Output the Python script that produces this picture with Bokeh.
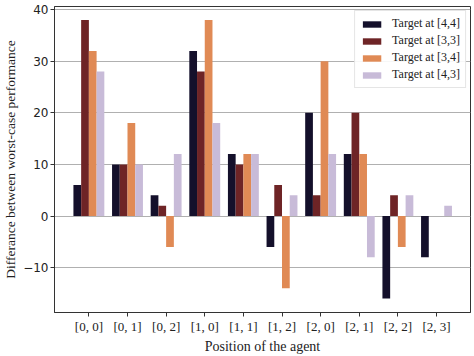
from bokeh.plotting import figure
from bokeh.models import ColumnDataSource, Range1d, FixedTicker, Legend, LegendItem
from bokeh.transform import dodge
from bokeh.embed import file_html
from bokeh.resources import INLINE

positions = ["[0, 0]", "[0, 1]", "[0, 2]", "[1, 0]", "[1, 1]", "[1, 2]", "[2, 0]", "[2, 1]", "[2, 2]", "[2, 3]"]
t44 = [6, 10, 4, 32, 12, -6, 20, 12, -16, -8]
t33 = [38, 10, 2, 28, 10, 6, 4, 20, 4, 0]
t34 = [32, 18, -6, 38, 12, -14, 30, 12, -6, 0]
t43 = [28, 10, 12, 18, 12, 4, 12, -8, 4, 2]
series_labels = ["Target at [4,4]", "Target at [3,3]", "Target at [3,4]", "Target at [4,3]"]
colors = ["#14102b", "#6e2426", "#e08a55", "#c8bbd8"]

idx = list(range(len(positions)))
src = ColumnDataSource(dict(x=idx, t44=t44, t33=t33, t34=t34, t43=t43))

p = figure(width=474, height=356, output_backend="svg", toolbar_location=None,
           x_range=Range1d(-0.89, 9.88), y_range=Range1d(-18.7, 40.6),
           min_border_left=2, min_border_right=4, min_border_top=6, min_border_bottom=2)

renderers = []
w = 0.2
offsets = [-0.3, -0.1, 0.1, 0.3]
for key, off, c in zip(["t44", "t33", "t34", "t43"], offsets, colors):
    r = p.vbar(x=dodge("x", off), top=key, bottom=0, width=w, source=src,
               fill_color=c, line_color=None)
    renderers.append(r)

legend = Legend(items=[LegendItem(label=l, renderers=[r]) for l, r in zip(series_labels, renderers)],
                location="top_right")
legend.label_text_font = "Liberation Serif"
legend.label_text_font_size = "12px"
legend.label_text_color = "#222222"
legend.glyph_width = 23
legend.glyph_height = 8
legend.spacing = 2
legend.padding = 5
legend.margin = 4
legend.label_standoff = 9
legend.label_height = 14
legend.border_line_color = "#cccccc"
legend.border_line_width = 1
legend.background_fill_alpha = 0.9
p.add_layout(legend)

p.xaxis.ticker = FixedTicker(ticks=idx)
p.xaxis.major_label_overrides = {i: s for i, s in enumerate(positions)}
p.yaxis.ticker = FixedTicker(ticks=[-10, 0, 10, 20, 30, 40])

p.xgrid.visible = False
p.ygrid.grid_line_color = "#b0b0b0"
p.ygrid.grid_line_width = 1

for ax in (p.xaxis, p.yaxis):
    ax.axis_line_color = "#333333"
    ax.major_tick_line_color = "#333333"
    ax.major_tick_out = 4
    ax.major_tick_in = 0
    ax.minor_tick_line_color = None
    ax.major_label_text_color = "#222222"
    ax.axis_label_text_color = "#222222"
    ax.axis_label_text_font_style = "normal"
    ax.axis_label_text_font = "Liberation Serif"
    ax.major_label_standoff = 2

p.xaxis.major_label_text_font = "Liberation Serif"
p.xaxis.major_label_text_font_size = "13px"
p.yaxis.major_label_text_font = "DejaVu Sans"
p.yaxis.major_label_text_font_size = "12px"
p.xaxis.axis_label = "Position of the agent"
p.xaxis.axis_label_text_font_size = "14px"
p.xaxis.axis_label_standoff = 2
p.yaxis.axis_label = "Differance between worst-case performance"
p.yaxis.axis_label_text_font_size = "13.5px"
p.yaxis.axis_label_standoff = 2

p.outline_line_color = "#333333"
p.outline_line_width = 1

open("out.html", "w").write(file_html(p, INLINE))
